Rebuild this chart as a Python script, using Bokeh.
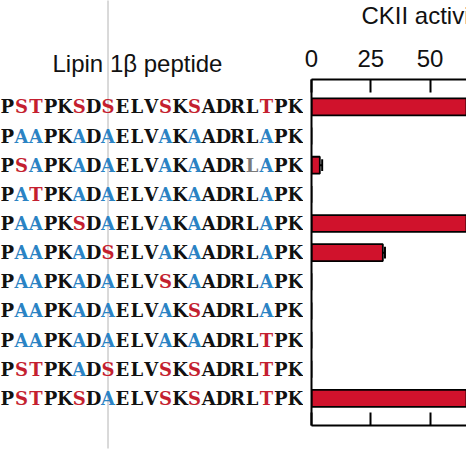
from bokeh.plotting import figure
from bokeh.layouts import row, column
from bokeh.models import ColumnDataSource, Range1d, LinearAxis, FixedTicker
from bokeh.core.properties import value
from bokeh.embed import file_html
from bokeh.resources import INLINE

# ---------------- data ----------------
peptides = [
    "PSTPKSDSELVSKSADRLTPK",
    "PAAPKADAELVAKAADRLAPK",
    "PSAPKADAELVAKAADRLAPK",
    "PATPKADAELVAKAADRLAPK",
    "PAAPKSDAELVAKAADRLAPK",
    "PAAPKADSELVAKAADRLAPK",
    "PAAPKADAELVSKAADRLAPK",
    "PAAPKADAELVAKSADRLAPK",
    "PAAPKADAELVAKAADRLTPK",
    "PSTPKADSELVSKSADRLTPK",
    "PSTPKSDAELVSKSADRLTPK",
]
# k = black, r = red (phospho site S/T), b = blue (alanine substitution), g = grey
color_codes = [
    "krrkkrkrkkkrkrkkkkrkk",
    "kbbkkbkbkkkbkbkkkkbkk",
    "krbkkbkbkkkbkbkkkgbkk",
    "kbrkkbkbkkkbkbkkkkbkk",
    "kbbkkrkbkkkbkbkkkkbkk",
    "kbbkkbkrkkkbkbkkkkbkk",
    "kbbkkbkbkkkrkbkkkkbkk",
    "kbbkkbkbkkkbkrkkkkbkk",
    "kbbkkbkbkkkbkbkkkkrkk",
    "krrkkbkrkkkrkrkkkkrkk",
    "krrkkrkbkkkrkrkkkkrkk",
]
activity = [100, 0, 3.5, 0, 100, 30.1, 0, 0, 0, 0, 100]
activity_err = [3, 0, 1.0, 0, 3, 0.9, 0, 0, 0, 0, 3]
x_ticks = [0, 25, 50, 75, 100]
title_text = "CKII activity"
peptide_header = "Lipin 1\u03b2 peptide"

# ---------------- style / layout ----------------
PALETTE = {"k": "#111111", "r": "#C41F30", "b": "#2B83C4", "g": "#7A7A7A"}
BAR_RED = "#D0122C"
W, H = 466, 466
LEFT_W = 303
TITLE_H = 30
FRAME_L, FRAME_T, FRAME_B = 311, 79, 425
PX_PER_UNIT = 2.37
ROW_PX = 29.15
FIRST_ROW_PX = 106.4
CHAR_PX = 14.4
SEQ_LEFT_PX = -0.5
FONT = "Liberation Sans"
SEQ_FONT = "DejaVu Serif"


def fy(py):
    return 1 + (py - FIRST_ROW_PX) / ROW_PX


def blank(fig):
    fig.outline_line_color = None
    fig.grid.visible = False
    return fig


# ---------- left panel: peptide sequences ----------
left = blank(figure(width=LEFT_W, height=H, x_range=Range1d(0, LEFT_W),
                    y_range=Range1d(fy(H), fy(0)), output_backend="svg",
                    toolbar_location=None, x_axis_location=None,
                    y_axis_location=None, min_border=0, frame_align=False))

left.segment(x0=[107.5], y0=[fy(-5)], x1=[107.5], y1=[fy(448)],
             line_color="#B4B4B4", line_width=1)

xs, ys, chs, cols = [], [], [], []
for r, (seq, code) in enumerate(zip(peptides, color_codes), start=1):
    for i, (ch, c) in enumerate(zip(seq, code)):
        xs.append(SEQ_LEFT_PX + (i + 0.5) * CHAR_PX)
        ys.append(r)
        chs.append(ch)
        cols.append(PALETTE[c])
seq_src = ColumnDataSource(dict(x=xs, y=ys, ch=chs, color=cols))
left.text(x="x", y="y", text="ch", text_color="color", source=seq_src,
          text_font=value(SEQ_FONT), text_font_style="bold",
          text_font_size=value("18px"), text_align="center",
          text_baseline="middle")

left.text(x=[52], y=[fy(63)], text=[peptide_header], text_color="#111111",
          text_font=value(FONT), text_font_size=value("24px"),
          text_align="left", text_baseline="middle")

# ---------- right column: title strip ----------
right_w = W - LEFT_W
head = blank(figure(width=right_w, height=TITLE_H, x_range=Range1d(0, right_w),
                    y_range=Range1d(TITLE_H, 0), output_backend="svg",
                    toolbar_location=None, x_axis_location=None,
                    y_axis_location=None, min_border=0, frame_align=False))
head.text(x=[361 - LEFT_W], y=[15], text=[title_text], text_color="#111111",
          text_font=value(FONT), text_font_size=value("24px"),
          text_align="left", text_baseline="middle")

# ---------- right column: CKII activity bars ----------
PH = H - TITLE_H
x_end = (W - FRAME_L) / PX_PER_UNIT
p = blank(figure(width=right_w, height=PH, x_range=Range1d(0, x_end),
                 y_range=Range1d(fy(FRAME_B), fy(FRAME_T)),
                 output_backend="svg", toolbar_location=None,
                 x_axis_location="above", title=None,
                 min_border_left=FRAME_L - LEFT_W,
                 min_border_top=FRAME_T - TITLE_H,
                 min_border_bottom=H - FRAME_B, min_border_right=0,
                 frame_align=False))

top = p.xaxis[0]
top.ticker = FixedTicker(ticks=x_ticks)
top.major_tick_in = 13
top.major_tick_out = 0
top.minor_tick_in = 0
top.minor_tick_out = 0
top.axis_line_width = 2
top.major_tick_line_width = 2
top.axis_line_color = "black"
top.major_tick_line_color = "black"
top.major_label_text_font = FONT
top.major_label_text_font_size = "24px"
top.major_label_text_color = "#111111"
top.major_label_standoff = 13

bottom = LinearAxis(ticker=FixedTicker(ticks=x_ticks))
bottom.major_tick_in = 13
bottom.major_tick_out = 0
bottom.minor_tick_in = 0
bottom.minor_tick_out = 0
bottom.axis_line_width = 2
bottom.major_tick_line_width = 2
bottom.major_label_overrides = {t: "" for t in x_ticks}
p.add_layout(bottom, "below")

yax = p.yaxis[0]
yax.ticker = FixedTicker(ticks=[])
yax.major_tick_in = 0
yax.major_tick_out = 0
yax.minor_tick_in = 0
yax.minor_tick_out = 0
yax.axis_line_width = 2

rows = list(range(1, len(peptides) + 1))
bar_src = ColumnDataSource(dict(row=rows, activity=activity))
p.hbar(y="row", left=0, right="activity", height=0.58, source=bar_src,
       fill_color=BAR_RED, line_color="black", line_width=1.8)

err_rows = [r for r, e in zip(rows, activity_err) if e > 0]
err_val = [a for a, e in zip(activity, activity_err) if e > 0]
err_hi = [a + e for a, e in zip(activity, activity_err) if e > 0]
err_src = ColumnDataSource(dict(row=err_rows, val=err_val, hi=err_hi,
                                lo_cap=[r - 0.2 for r in err_rows],
                                hi_cap=[r + 0.2 for r in err_rows]))
p.segment(x0="val", y0="row", x1="hi", y1="row", source=err_src,
          line_color="black", line_width=2)
p.segment(x0="hi", y0="lo_cap", x1="hi", y1="hi_cap", source=err_src,
          line_color="black", line_width=2)

layout = row(left, column(head, p, spacing=0), spacing=0)
open("out.html", "w").write(file_html(layout, INLINE))
